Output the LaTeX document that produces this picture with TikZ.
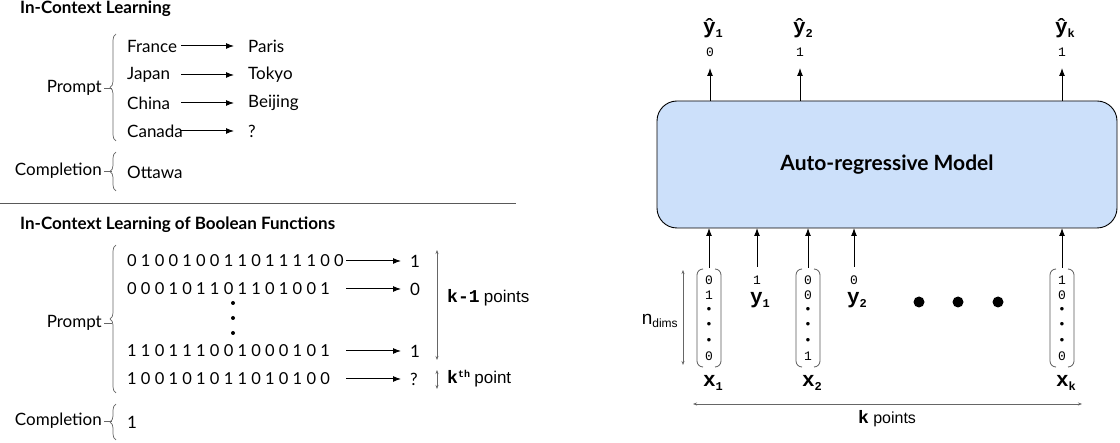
\documentclass[tikz,border=0pt]{standalone}
\usepackage{fontspec}
\setmainfont{Lato}
\newfontfamily\mono{Liberation Mono}
\newfontfamily\arial{Liberation Sans}
\newcommand\mysubf{\mono\bfseries\fontsize{12}{12}\selectfont}
\usetikzlibrary{decorations.pathreplacing,arrows.meta}
\begin{document}
\begin{tikzpicture}[x=1pt,y=-1pt,
  txt/.style={anchor=west,inner sep=0pt,font=\fontsize{17}{20}\selectfont},
  lab/.style={anchor=east,inner sep=0pt,font=\fontsize{17}{20}\selectfont},
  ttl/.style={anchor=west,inner sep=0pt,font=\fontsize{17}{20}\selectfont\bfseries},
  bin/.style={anchor=west,inner sep=0pt,font=\fontsize{16.5}{18}\selectfont},
  arr/.style={-{Latex[length=8pt,width=6pt]},line width=1pt},
  brc/.style={decorate,decoration={brace,amplitude=6pt},gray!80!black,line width=0.7pt},
  dbl/.style={{Stealth[length=4pt]}-{Stealth[length=4pt]},gray!80!black,line width=0.6pt},
  vec/.style={gray!70!black,line width=0.8pt,rounded corners=6pt},
  vtx/.style={inner sep=0pt,font=\mono\fontsize{13}{13}\selectfont},
  bm/.style={inner sep=0pt,font=\mono\bfseries\fontsize{21}{22}\selectfont},
  dot/.style={circle,fill=black,inner sep=0pt,minimum size=4pt}]
\useasboundingbox (0,0) rectangle (1120,443);
% ---------- Top-left
\node[ttl] (t1) at (20,9) {In-Context Learning};
\draw[brc] (116,141) -- (116,34);
\node[lab] (pl) at (102,88) {Prompt};
\draw[gray!80!black] (pl.east) ++(2,0) -- ++(8,0);
\foreach \c/\t/\y/\n in {France/Paris/46/a,Japan/Tokyo/75/b,China/Beijing/103/c,Canada/?/131/d}{
  \node[txt] (c\n) at (127,\y) {\c};
  \node[txt] (t\n) at (248,\y) {\t};
  \coordinate (s\n) at (181,\y);
  \coordinate (e\n) at (234,\y);
  \draw[arr] (s\n) -- (e\n);
}
\draw[brc] (116,191) -- (116,152);
\node[lab] (cl) at (102,171) {Completion};
\draw[gray!80!black] (cl.east) ++(2,0) -- ++(8,0);
\node[txt] (ot) at (127,172) {Ottawa};
\draw[gray!70!black,line width=0.9pt] (0,203) -- (516,203);
% ---------- Bottom-left
\node[ttl] (t2) at (20,225) {In-Context Learning of Boolean Functions};
\draw[brc] (116,393) -- (116,245);
\node[lab] (pl2) at (102,323) {Prompt};
\draw[gray!80!black] (pl2.east) ++(2,0) -- ++(8,0);
\foreach \s/\o/\y/\n in {0 1 0 0 1 0 0 1 1 0 1 1 1 1 0 0/1/261/a,0 0 0 1 0 1 1 0 1 1 0 1 0 0 1/0/289/b,1 1 0 1 1 1 0 0 1 0 0 0 1 0 1/1/351/c,1 0 0 1 0 1 0 1 1 0 1 0 1 0 0/?/379/d}{
  \node[bin] (r\n) at (127,\y) {\s};
  \node[txt] (o\n) at (410,\y) {\o};
  \coordinate (q\n) at (346,\y);
  \coordinate (p\n) at (401,\y);
  \draw[arr] (q\n) -- (p\n);
}
\node[dot] (d1) at (233,303) {};
\node[dot] (d2) at (233,318) {};
\node[dot] (d3) at (233,333) {};
\coordinate (k1a) at (437,250); \coordinate (k1b) at (437,360);
\draw[dbl] (k1a) -- (k1b);
\node[txt] (k1) at (447,298) {{\mono\bfseries\fontsize{18}{20}\selectfont k-1} \arial points};
\coordinate (k2a) at (437,370); \coordinate (k2b) at (437,389);
\draw[dbl] (k2a) -- (k2b);
\node[txt] (k2) at (447,379) {{\mono\bfseries\fontsize{18}{20}\selectfont k}\raisebox{6pt}{\mono\bfseries\fontsize{10}{10}\selectfont th} \arial point};
\draw[brc] (116,440) -- (116,404);
\node[lab] (cl2) at (102,421) {Completion};
\draw[gray!80!black] (cl2.east) ++(2,0) -- ++(8,0);
\node[txt] (one) at (127,422) {1};
% ---------- Right
\node[draw=black,line width=0.9pt,fill={rgb,255:red,204;green,224;blue,250},rounded corners=20pt,minimum width=460pt,minimum height=127pt,font=\fontsize{21}{24}\selectfont\bfseries] (M) at (887,164.5) {Auto-regressive Model};
\foreach \x/\v/\l/\n in {710/0/1/a,800/1/2/b,1062/1/k/c}{
  \node[vtx] (ov\n) at (\x,52) {\v};
  \node[bm] (yh\n) at (\x+3,28) {ŷ\raisebox{-4pt}{\mysubf\l}};
  \coordinate (ot\n) at (\x,68);
  \draw[arr] (\x,101) -- (ot\n);
}
% vectors
\foreach \x/\vals/\l/\n in {709/{0,1,\textbullet,\textbullet,\textbullet,0}/1/a,808/{0,0,\textbullet,\textbullet,\textbullet,1}/2/b,1062/{1,0,\textbullet,\textbullet,\textbullet,0}/k/c}{
  \draw[vec] (\x-6,269) -- (\x-12,269) -- (\x-12,367) -- (\x-6,367);
  \draw[vec] (\x+6,269) -- (\x+12,269) -- (\x+12,367) -- (\x+6,367);
  \foreach \v [count=\i] in \vals { \node[vtx] at (\x,265+\i*15.2) {\v}; }
  \coordinate (vt\n) at (\x,268);
  \node[bm] (xl\n) at (\x+4,383) {x\raisebox{-4pt}{\mysubf\l}};
  \draw[arr] (vt\n) -- (\x,228);
}
\foreach \x/\v/\l/\n in {757/1/1/a,854/0/2/b}{
  \node[vtx] (yv\n) at (\x,280) {\v};
  \node[bm] (yl\n) at (\x+3,300) {y\raisebox{-4pt}{\mysubf\l}};
  \draw[arr] (\x,267) -- (\x,228);
}
\foreach \x/\n in {919/a,958/b,998/c}{\node[circle,fill=black,inner sep=0pt,minimum size=11pt] (bd\n) at (\x,302) {};}
\coordinate (na) at (683,270); \coordinate (nb) at (683,365);
\draw[dbl] (na) -- (nb);
\node[inner sep=0pt,font=\arial\fontsize{19}{20}\selectfont] (nd) at (660,321) {n\textsubscript{\fontsize{12}{12}\selectfont dims}};
\coordinate (ka) at (693,404); \coordinate (kb) at (1082,404);
\draw[dbl] (ka) -- (kb);
\node[inner sep=0pt,font=\arial\fontsize{16}{18}\selectfont] (kp) at (887,419) {{\mono\bfseries\fontsize{18}{20}\selectfont k} points};
\end{tikzpicture}
\end{document}
